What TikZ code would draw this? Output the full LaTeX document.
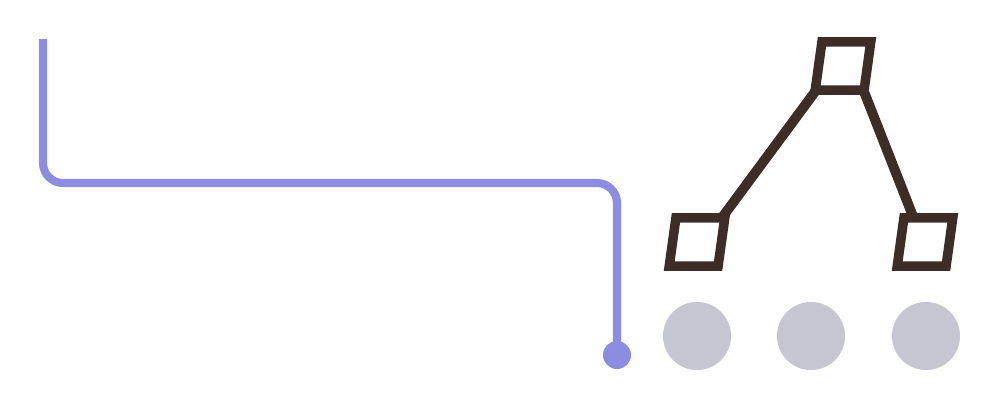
\documentclass[tikz,border=0pt]{standalone}
\usetikzlibrary{positioning,shapes.geometric}

\definecolor{lineaazul}{HTML}{8C8CE0}
\definecolor{marron}{HTML}{3E2C27}
\definecolor{grisclaro}{HTML}{C5C6D1}

\begin{document}
\begin{tikzpicture}[x=0.01cm, y=-0.01cm,
    caja/.style={draw=marron, line width=2.7pt, trapezium, trapezium left angle=81, trapezium right angle=99,
        trapezium stretches=true, minimum width=0.555cm, minimum height=0.48cm, inner sep=1pt},
    rama/.style={draw=marron, line width=2.8pt, line cap=rect},
    bola/.style={circle, fill=grisclaro, minimum size=0.68cm, inner sep=0pt}]
    \useasboundingbox (0,0) rectangle (1000,409);

    % Arbol
    \node (raiz) [caja] at (843,66) {};
    \node (hojaizq) [caja] at (697,242) {};
    \node (hojader) [caja] at (925,242) {};

    \draw[rama] ([xshift=0.03cm]raiz.bottom left corner) -- ([xshift=-0.05cm]hojaizq.top right corner);
    \draw[rama] ([xshift=-0.03cm]raiz.bottom right corner) -- ([xshift=0.12cm]hojader.top left corner);

    % Circulos grises
    \foreach \i/\x in {1/697, 2/811, 3/926}
        \node (bola\i) [bola] at (\x,336) {};

    % Linea azul
    \coordinate (inicio) at (43,39);
    \node (punto) [circle, fill=lineaazul, minimum size=0.28cm, inner sep=0pt] at (617,355) {};
    \draw[lineaazul, line width=2.3pt, rounded corners=0.2cm] (inicio) |- ++(300,144) -| (punto.center);
\end{tikzpicture}
\end{document}
